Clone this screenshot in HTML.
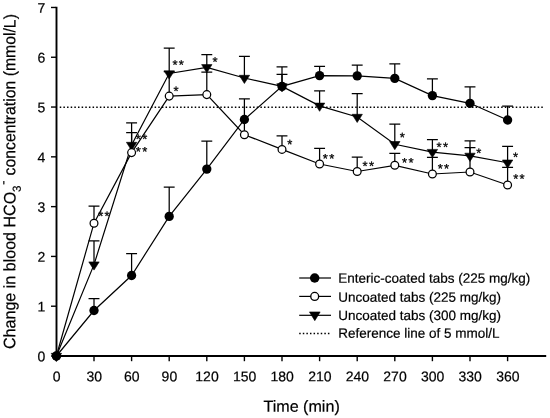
<!DOCTYPE html>
<html><head><meta charset="utf-8"><title>Change in blood HCO3- concentration</title>
<style>
html,body{margin:0;padding:0;background:#fff}
body{width:550px;height:418px;overflow:hidden}
svg{display:block}
text{font-family:"Liberation Sans",Arial,Helvetica,sans-serif;fill:#000;stroke:#000;stroke-width:0.2px}
.tk{font-size:14px}
.lg{font-size:13.5px}
.ti{font-size:16.1px}
.ty{font-size:16.6px}
.sb{font-size:11.6px}
.st{font-size:13px;letter-spacing:1.34px;stroke:#000;stroke-width:0.3px}
</style></head><body>
<svg width="550" height="418" viewBox="0 0 550 418">
<rect width="550" height="418" fill="#fff"/>
<path d="M56.5 6.8V357M55.4 356H546.2" fill="none" stroke="#000" stroke-width="1.9"/>
<path d="M51 356H56" stroke="#000" stroke-width="1.4"/>
<text transform="translate(45.2,361.3) rotate(0.03)" text-anchor="end" class="tk">0</text>
<path d="M51 306.21H56" stroke="#000" stroke-width="1.4"/>
<text transform="translate(45.2,311.51) rotate(0.03)" text-anchor="end" class="tk">1</text>
<path d="M51 256.42H56" stroke="#000" stroke-width="1.4"/>
<text transform="translate(45.2,261.72) rotate(0.03)" text-anchor="end" class="tk">2</text>
<path d="M51 206.63H56" stroke="#000" stroke-width="1.4"/>
<text transform="translate(45.2,211.93) rotate(0.03)" text-anchor="end" class="tk">3</text>
<path d="M51 156.84H56" stroke="#000" stroke-width="1.4"/>
<text transform="translate(45.2,162.14) rotate(0.03)" text-anchor="end" class="tk">4</text>
<path d="M51 107.05H56" stroke="#000" stroke-width="1.4"/>
<text transform="translate(45.2,112.35) rotate(0.03)" text-anchor="end" class="tk">5</text>
<path d="M51 57.26H56" stroke="#000" stroke-width="1.4"/>
<text transform="translate(45.2,62.56) rotate(0.03)" text-anchor="end" class="tk">6</text>
<path d="M51 7.47H56" stroke="#000" stroke-width="1.4"/>
<text transform="translate(45.2,12.77) rotate(0.03)" text-anchor="end" class="tk">7</text>
<path d="M56.4 356V361.2" stroke="#000" stroke-width="1.4"/>
<text transform="translate(56.6,381.25) rotate(0.03)" text-anchor="middle" class="tk">0</text>
<path d="M94 356V361.2" stroke="#000" stroke-width="1.4"/>
<text transform="translate(94.2,381.25) rotate(0.03)" text-anchor="middle" class="tk">30</text>
<path d="M131.6 356V361.2" stroke="#000" stroke-width="1.4"/>
<text transform="translate(131.8,381.25) rotate(0.03)" text-anchor="middle" class="tk">60</text>
<path d="M169.2 356V361.2" stroke="#000" stroke-width="1.4"/>
<text transform="translate(169.4,381.25) rotate(0.03)" text-anchor="middle" class="tk">90</text>
<path d="M206.8 356V361.2" stroke="#000" stroke-width="1.4"/>
<text transform="translate(207,381.25) rotate(0.03)" text-anchor="middle" class="tk">120</text>
<path d="M244.4 356V361.2" stroke="#000" stroke-width="1.4"/>
<text transform="translate(244.6,381.25) rotate(0.03)" text-anchor="middle" class="tk">150</text>
<path d="M282 356V361.2" stroke="#000" stroke-width="1.4"/>
<text transform="translate(282.2,381.25) rotate(0.03)" text-anchor="middle" class="tk">180</text>
<path d="M319.6 356V361.2" stroke="#000" stroke-width="1.4"/>
<text transform="translate(319.8,381.25) rotate(0.03)" text-anchor="middle" class="tk">210</text>
<path d="M357.2 356V361.2" stroke="#000" stroke-width="1.4"/>
<text transform="translate(357.4,381.25) rotate(0.03)" text-anchor="middle" class="tk">240</text>
<path d="M394.8 356V361.2" stroke="#000" stroke-width="1.4"/>
<text transform="translate(395,381.25) rotate(0.03)" text-anchor="middle" class="tk">270</text>
<path d="M432.4 356V361.2" stroke="#000" stroke-width="1.4"/>
<text transform="translate(432.6,381.25) rotate(0.03)" text-anchor="middle" class="tk">300</text>
<path d="M470 356V361.2" stroke="#000" stroke-width="1.4"/>
<text transform="translate(470.2,381.25) rotate(0.03)" text-anchor="middle" class="tk">330</text>
<path d="M507.6 356V361.2" stroke="#000" stroke-width="1.4"/>
<text transform="translate(507.8,381.25) rotate(0.03)" text-anchor="middle" class="tk">360</text>
<path d="M59.75 107.15H543.5" stroke="#000" stroke-width="1.5" stroke-dasharray="1.5 2.148"/>
<path d="M94 264.63V240.8M88.55 240.8H99.45" fill="none" stroke="#000" stroke-width="1.25"/>
<path d="M131.6 145.03V122.9M126.15 122.9H137.05" fill="none" stroke="#000" stroke-width="1.25"/>
<path d="M169.2 73.53V48.1M163.75 48.1H174.65" fill="none" stroke="#000" stroke-width="1.25"/>
<path d="M206.8 67.33V54.7M201.35 54.7H212.25" fill="none" stroke="#000" stroke-width="1.25"/>
<path d="M244.4 78.03V56.3M238.95 56.3H249.85" fill="none" stroke="#000" stroke-width="1.25"/>
<path d="M282 86.43V74.3M276.55 74.3H287.45" fill="none" stroke="#000" stroke-width="1.25"/>
<path d="M319.6 105.83V90.8M314.15 90.8H325.05" fill="none" stroke="#000" stroke-width="1.25"/>
<path d="M357.2 117.03V93.5M351.75 93.5H362.65" fill="none" stroke="#000" stroke-width="1.25"/>
<path d="M394.8 144.23V124.2M389.35 124.2H400.25" fill="none" stroke="#000" stroke-width="1.25"/>
<path d="M432.4 152.13V139.5M426.95 139.5H437.85" fill="none" stroke="#000" stroke-width="1.25"/>
<path d="M470 155.93V140.9M464.55 140.9H475.45" fill="none" stroke="#000" stroke-width="1.25"/>
<path d="M507.6 162.73V146.4M502.15 146.4H513.05" fill="none" stroke="#000" stroke-width="1.25"/>
<polyline points="56.4,356.03 94,264.63 131.6,145.03 169.2,73.53 206.8,67.33 244.4,78.03 282,86.43 319.6,105.83 357.2,117.03 394.8,144.23 432.4,152.13 470,155.93 507.6,162.73" fill="none" stroke="#000" stroke-width="1.2"/>
<path d="M94 223.2V206.1M88.55 206.1H99.45" fill="none" stroke="#000" stroke-width="1.25"/>
<path d="M131.6 152.6V132.7M126.15 132.7H137.05" fill="none" stroke="#000" stroke-width="1.25"/>
<path d="M169.2 96.1V71.6M163.75 71.6H174.65" fill="none" stroke="#000" stroke-width="1.25"/>
<path d="M206.8 94.6V72M201.35 72H212.25" fill="none" stroke="#000" stroke-width="1.25"/>
<path d="M244.4 134.7V119M243.9 119H244.9" fill="none" stroke="#000" stroke-width="1.25"/>
<path d="M282 149.4V135.8M276.55 135.8H287.45" fill="none" stroke="#000" stroke-width="1.25"/>
<path d="M319.6 164V148.4M314.15 148.4H325.05" fill="none" stroke="#000" stroke-width="1.25"/>
<path d="M357.2 171.5V157M351.75 157H362.65" fill="none" stroke="#000" stroke-width="1.25"/>
<path d="M394.8 165.3V153.3M389.35 153.3H400.25" fill="none" stroke="#000" stroke-width="1.25"/>
<path d="M432.4 174V157.3M426.95 157.3H437.85" fill="none" stroke="#000" stroke-width="1.25"/>
<path d="M470 172V147.5M464.55 147.5H475.45" fill="none" stroke="#000" stroke-width="1.25"/>
<path d="M507.6 185V167.4M502.15 167.4H513.05" fill="none" stroke="#000" stroke-width="1.25"/>
<polyline points="56.4,356 94,223.2 131.6,152.6 169.2,96.1 206.8,94.6 244.4,134.7 282,149.4 319.6,164 357.2,171.5 394.8,165.3 432.4,174 470,172 507.6,185" fill="none" stroke="#000" stroke-width="1.2"/>
<path d="M94 310.5V298.5M88.55 298.5H99.45" fill="none" stroke="#000" stroke-width="1.25"/>
<path d="M131.6 275.5V253.6M126.15 253.6H137.05" fill="none" stroke="#000" stroke-width="1.25"/>
<path d="M169.2 216.4V187M163.75 187H174.65" fill="none" stroke="#000" stroke-width="1.25"/>
<path d="M206.8 169.1V141M201.35 141H212.25" fill="none" stroke="#000" stroke-width="1.25"/>
<path d="M244.4 119.5V98.9M238.95 98.9H249.85" fill="none" stroke="#000" stroke-width="1.25"/>
<path d="M282 86.4V66.8M276.55 66.8H287.45" fill="none" stroke="#000" stroke-width="1.25"/>
<path d="M319.6 75.6V66.3M314.15 66.3H325.05" fill="none" stroke="#000" stroke-width="1.25"/>
<path d="M357.2 75.9V65.1M351.75 65.1H362.65" fill="none" stroke="#000" stroke-width="1.25"/>
<path d="M394.8 78.4V63.9M389.35 63.9H400.25" fill="none" stroke="#000" stroke-width="1.25"/>
<path d="M432.4 95.6V78.8M426.95 78.8H437.85" fill="none" stroke="#000" stroke-width="1.25"/>
<path d="M470 103.3V86.9M464.55 86.9H475.45" fill="none" stroke="#000" stroke-width="1.25"/>
<path d="M507.6 120V106M502.15 106H513.05" fill="none" stroke="#000" stroke-width="1.25"/>
<polyline points="56.4,356 94,310.5 131.6,275.5 169.2,216.4 206.8,169.1 244.4,119.5 282,86.4 319.6,75.6 357.2,75.9 394.8,78.4 432.4,95.6 470,103.3 507.6,120" fill="none" stroke="#000" stroke-width="1.2"/>
<path d="M51.2 353.3L61.6 353.3L56.4 361.5Z" fill="#000" stroke="#000" stroke-width="0.6" stroke-linejoin="miter"/>
<path d="M88.8 261.9L99.2 261.9L94 270.1Z" fill="#000" stroke="#000" stroke-width="0.6" stroke-linejoin="miter"/>
<path d="M126.4 142.3L136.8 142.3L131.6 150.5Z" fill="#000" stroke="#000" stroke-width="0.6" stroke-linejoin="miter"/>
<path d="M164 70.8L174.4 70.8L169.2 79Z" fill="#000" stroke="#000" stroke-width="0.6" stroke-linejoin="miter"/>
<path d="M201.6 64.6L212 64.6L206.8 72.8Z" fill="#000" stroke="#000" stroke-width="0.6" stroke-linejoin="miter"/>
<path d="M239.2 75.3L249.6 75.3L244.4 83.5Z" fill="#000" stroke="#000" stroke-width="0.6" stroke-linejoin="miter"/>
<path d="M276.8 83.7L287.2 83.7L282 91.9Z" fill="#000" stroke="#000" stroke-width="0.6" stroke-linejoin="miter"/>
<path d="M314.4 103.1L324.8 103.1L319.6 111.3Z" fill="#000" stroke="#000" stroke-width="0.6" stroke-linejoin="miter"/>
<path d="M352 114.3L362.4 114.3L357.2 122.5Z" fill="#000" stroke="#000" stroke-width="0.6" stroke-linejoin="miter"/>
<path d="M389.6 141.5L400 141.5L394.8 149.7Z" fill="#000" stroke="#000" stroke-width="0.6" stroke-linejoin="miter"/>
<path d="M427.2 149.4L437.6 149.4L432.4 157.6Z" fill="#000" stroke="#000" stroke-width="0.6" stroke-linejoin="miter"/>
<path d="M464.8 153.2L475.2 153.2L470 161.4Z" fill="#000" stroke="#000" stroke-width="0.6" stroke-linejoin="miter"/>
<path d="M502.4 160L512.8 160L507.6 168.2Z" fill="#000" stroke="#000" stroke-width="0.6" stroke-linejoin="miter"/>
<circle cx="56.4" cy="356" r="3.9" fill="#fff" stroke="#000" stroke-width="1.25"/>
<circle cx="94" cy="223.2" r="3.9" fill="#fff" stroke="#000" stroke-width="1.25"/>
<circle cx="131.6" cy="152.6" r="3.9" fill="#fff" stroke="#000" stroke-width="1.25"/>
<circle cx="169.2" cy="96.1" r="3.9" fill="#fff" stroke="#000" stroke-width="1.25"/>
<circle cx="206.8" cy="94.6" r="3.9" fill="#fff" stroke="#000" stroke-width="1.25"/>
<circle cx="244.4" cy="134.7" r="3.9" fill="#fff" stroke="#000" stroke-width="1.25"/>
<circle cx="282" cy="149.4" r="3.9" fill="#fff" stroke="#000" stroke-width="1.25"/>
<circle cx="319.6" cy="164" r="3.9" fill="#fff" stroke="#000" stroke-width="1.25"/>
<circle cx="357.2" cy="171.5" r="3.9" fill="#fff" stroke="#000" stroke-width="1.25"/>
<circle cx="394.8" cy="165.3" r="3.9" fill="#fff" stroke="#000" stroke-width="1.25"/>
<circle cx="432.4" cy="174" r="3.9" fill="#fff" stroke="#000" stroke-width="1.25"/>
<circle cx="470" cy="172" r="3.9" fill="#fff" stroke="#000" stroke-width="1.25"/>
<circle cx="507.6" cy="185" r="3.9" fill="#fff" stroke="#000" stroke-width="1.25"/>
<circle cx="56.4" cy="356" r="4.65" fill="#000"/>
<circle cx="94" cy="310.5" r="4.65" fill="#000"/>
<circle cx="131.6" cy="275.5" r="4.65" fill="#000"/>
<circle cx="169.2" cy="216.4" r="4.65" fill="#000"/>
<circle cx="206.8" cy="169.1" r="4.65" fill="#000"/>
<circle cx="244.4" cy="119.5" r="4.65" fill="#000"/>
<circle cx="282" cy="86.4" r="4.65" fill="#000"/>
<circle cx="319.6" cy="75.6" r="4.65" fill="#000"/>
<circle cx="357.2" cy="75.9" r="4.65" fill="#000"/>
<circle cx="394.8" cy="78.4" r="4.65" fill="#000"/>
<circle cx="432.4" cy="95.6" r="4.65" fill="#000"/>
<circle cx="470" cy="103.3" r="4.65" fill="#000"/>
<circle cx="507.6" cy="120" r="4.65" fill="#000"/>
<text transform="translate(98.2,220.5) rotate(0.03)" class="st">**</text>
<text transform="translate(135.8,143.6) rotate(0.03)" class="st">**</text>
<text transform="translate(135.8,156.1) rotate(0.03)" class="st">**</text>
<text transform="translate(172.4,69.3) rotate(0.03)" class="st">**</text>
<text transform="translate(173.6,95.6) rotate(0.03)" class="st">*</text>
<text transform="translate(212.6,66.3) rotate(0.03)" class="st">*</text>
<text transform="translate(287.2,148.8) rotate(0.03)" class="st">*</text>
<text transform="translate(322.8,163.1) rotate(0.03)" class="st">**</text>
<text transform="translate(362.5,170.6) rotate(0.03)" class="st">**</text>
<text transform="translate(399.7,141.8) rotate(0.03)" class="st">*</text>
<text transform="translate(402,167) rotate(0.03)" class="st">**</text>
<text transform="translate(436.6,151.6) rotate(0.03)" class="st">**</text>
<text transform="translate(437.7,173.1) rotate(0.03)" class="st">**</text>
<text transform="translate(476.2,157.4) rotate(0.03)" class="st">*</text>
<text transform="translate(513,161.5) rotate(0.03)" class="st">*</text>
<text transform="translate(513.2,183.2) rotate(0.03)" class="st">**</text>
<path d="M299.2 278H331" stroke="#000" stroke-width="1.2"/>
<path d="M299.2 296.4H331" stroke="#000" stroke-width="1.2"/>
<path d="M299.2 315.3H331" stroke="#000" stroke-width="1.2"/>
<circle cx="314.7" cy="278" r="4.75" fill="#000"/>
<circle cx="314.7" cy="296.4" r="3.95" fill="#fff" stroke="#000" stroke-width="1.35"/>
<path d="M309.45 311.95L320.15 311.95L314.8 320.65Z" fill="#000" stroke="#000" stroke-width="0.6" stroke-linejoin="miter"/>
<path d="M299.2 333.5H330" stroke="#000" stroke-width="1.4" stroke-dasharray="1.5 2.09"/>
<text transform="translate(338.2,282.7) rotate(0.03)" class="lg">Enteric-coated tabs (225 mg/kg)</text>
<text transform="translate(338.2,301.7) rotate(0.03)" class="lg">Uncoated tabs (225 mg/kg)</text>
<text transform="translate(338.2,320) rotate(0.03)" class="lg">Uncoated tabs (300 mg/kg)</text>
<text transform="translate(338.2,337.7) rotate(0.03)" class="lg">Reference line of 5 mmol/L</text>
<text transform="translate(301.6,411.75) rotate(0.03)" text-anchor="middle" class="ti">Time (min)</text>
<text transform="translate(15.3,349) rotate(-89.97)" class="ty" textLength="157.2" lengthAdjust="spacingAndGlyphs">Change in blood HCO</text>
<text transform="translate(20.7,192.1) rotate(-89.97)" class="sb">3</text>
<text transform="translate(7.25,184.7) rotate(-89.97)" font-size="13">-</text>
<text transform="translate(15.3,175.4) rotate(-89.97)" class="ty" textLength="161.3" lengthAdjust="spacingAndGlyphs">concentration (mmol/L)</text>
</svg>
</body></html>
